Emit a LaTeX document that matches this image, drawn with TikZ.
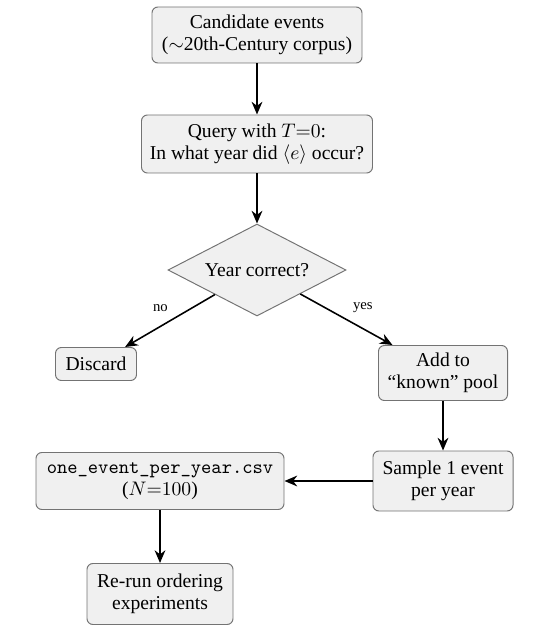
\documentclass[tikz,border=0pt]{standalone}
\usepackage{fontspec}
\setmainfont{Liberation Serif}
\usetikzlibrary{shapes.geometric,arrows.meta}
\begin{document}
\begin{tikzpicture}[x=0.51pt,y=-0.51pt,
  box/.style={draw=black!55,fill=black!6,rounded corners=3pt,line width=0.5pt,align=center,font=\fontsize{10}{11.5}\selectfont,inner sep=0pt},
  dia/.style={diamond,aspect=1.93,draw=black!55,fill=black!6,line width=0.5pt,inner sep=0pt,font=\fontsize{10}{11.5}\selectfont},
  arr/.style={-{Stealth[length=6.5pt,width=5.5pt]},line width=0.8pt},
  lab/.style={font=\fontsize{7.5}{9}\selectfont,inner sep=1pt}]
\useasboundingbox (0,0) rectangle (549,632);
\node[box,minimum width=210*0.51pt,minimum height=56*0.51pt] (c1) at (257,35) {Candidate events\\($\sim$20th-Century corpus)};
\node[box,minimum width=231*0.51pt,minimum height=58*0.51pt] (q) at (257,144) {Query with $T{=}0$:\\In what year did $\langle e\rangle$ occur?};
\node[dia,minimum width=178*0.51pt,minimum height=92*0.51pt] (d) at (257,270) {Year correct?};
\node[box,minimum width=81*0.51pt,minimum height=33*0.51pt] (disc) at (96,364) {Discard};
\node[box,minimum width=129*0.51pt,minimum height=55*0.51pt] (add) at (443,373) {Add to\\``known'' pool};
\node[box,minimum width=140*0.51pt,minimum height=60*0.51pt] (samp) at (443,481) {Sample 1 event\\per year};
\node[box,minimum width=248*0.51pt,minimum height=57*0.51pt] (csv) at (160,481) {\texttt{one\_event\_per\_year.csv}\\($N{=}100$)};
\node[box,minimum width=146*0.51pt,minimum height=61*0.51pt] (rerun) at (160,594) {Re-run ordering\\experiments};
\draw[arr] (c1) -- (q);
\draw[arr] (q) -- (d);
\draw[arr] (d) -- node[lab,pos=0.45,above left=2pt] (no) {no} (disc);
\draw[arr] (d) -- node[lab,pos=0.5,above right=2pt] (yes) {yes} (add);
\draw[arr] (add) -- (samp);
\draw[arr] (samp) -- (csv);
\draw[arr] (csv) -- (rerun);
\end{tikzpicture}
\end{document}
